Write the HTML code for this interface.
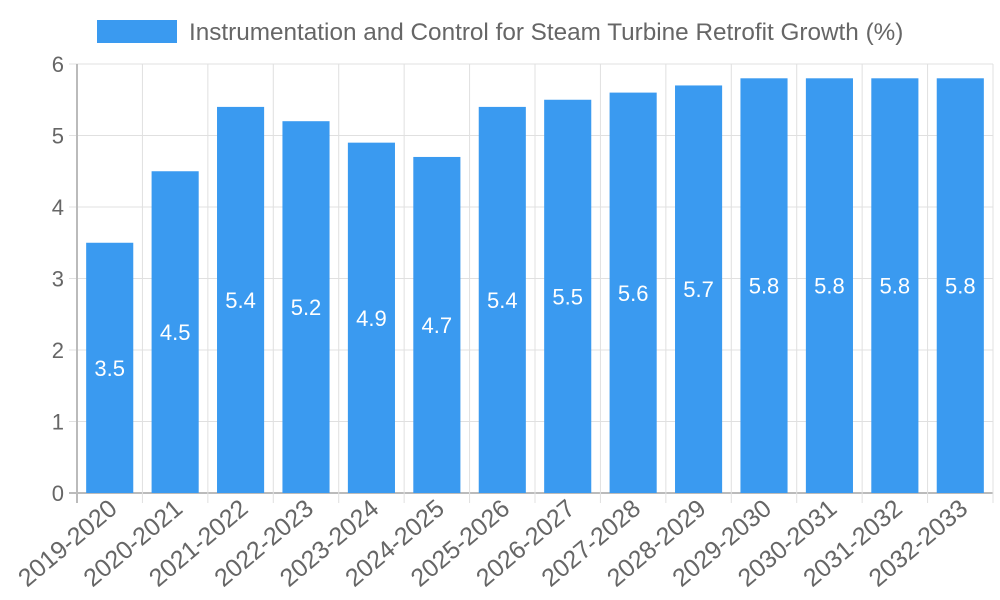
<!DOCTYPE html>
<html><head><meta charset="utf-8"><style>
html,body{margin:0;padding:0;background:#fff;}
svg{display:block;font-family:"Liberation Sans",Arial,sans-serif;}
</style></head><body>
<svg id="chart" width="1000" height="600" viewBox="0 0 1000 600"></svg>
<script>
const categories=["2019-2020","2020-2021","2021-2022","2022-2023","2023-2024","2024-2025","2025-2026","2026-2027","2027-2028","2028-2029","2029-2030","2030-2031","2031-2032","2032-2033"];
const values=[3.5,4.5,5.4,5.2,4.9,4.7,5.4,5.5,5.6,5.7,5.8,5.8,5.8,5.8];
const yTicks=[0,1,2,3,4,5,6];
const seriesName="Instrumentation and Control for Steam Turbine Retrofit Growth (%)";

const svg=document.getElementById('chart');
const NS="http://www.w3.org/2000/svg";
const L=77,R=993,T=64,B=493,yMax=6;
const bw=(R-L)/categories.length;
const y=v=>B-(v/yMax)*(B-T);
const xc=i=>L+bw*(i+0.5);
function mk(tag,attrs,parent){const e=document.createElementNS(NS,tag);for(const k in attrs)e.setAttribute(k,attrs[k]);(parent||svg).appendChild(e);return e;}

const lg=mk('g',{});


const lb=mk('rect',{x:97,y:20,width:80,height:23,fill:'#3a9af0'},lg);


const lt=mk('text',{x:189,y:40,'font-size':24.3,fill:'#666'},lg);
lt.textContent=seriesName;



yTicks.forEach(t=>{
  const g=mk('line',{x1:L-8,x2:R,y1:y(t),y2:y(t),stroke:t===0?'#bbb':'#e0e0e0','stroke-width':t===0?2:1});
  
  
  const tx=mk('text',{x:L-13,y:y(t)+8,'font-size':22,fill:'#666','text-anchor':'end'});
  tx.textContent=t;
  
  
});
for(let i=0;i<=categories.length;i++){
  const xx=L+bw*i;
  const g=mk('line',{x1:xx,x2:xx,y1:T,y2:B+10,stroke:i===0?'#bbb':'#e0e0e0','stroke-width':i===0?2:1});
  
  
}
const barW=bw*0.72;
values.forEach((v,i)=>{
  const r=mk('rect',{x:xc(i)-barW/2,y:y(v),width:barW,height:B-y(v),fill:'#3a9af0'});
  
  
  const t=mk('text',{x:xc(i),y:(y(v)+B)/2+8,'font-size':22,fill:'#fff','text-anchor':'middle'});
  t.textContent=v;
  
  
  const xl=mk('text',{x:0,y:0,'font-size':25,fill:'#666','text-anchor':'end',transform:`translate(${xc(i)+9},${511}) rotate(-40)`});
  xl.textContent=categories[i];
  
  
});
</script>
</body></html>
